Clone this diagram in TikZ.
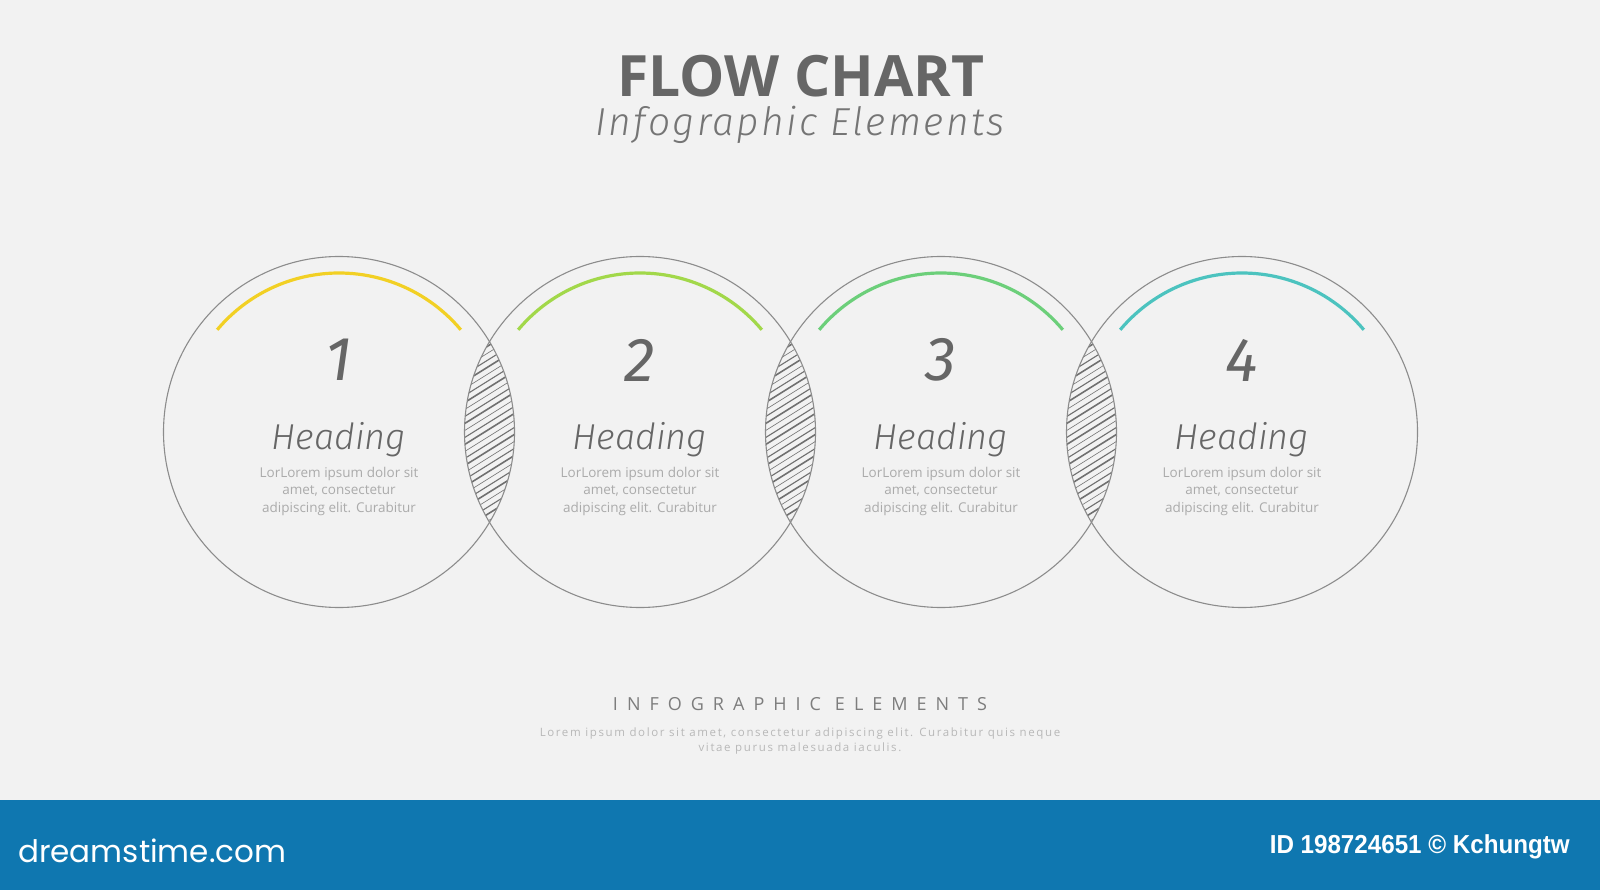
\documentclass[tikz,border=0pt]{standalone}
\usepackage{fontspec}
\setmainfont{Open Sans}
\newfontfamily\hand{Fira Sans Light Italic}
\newfontfamily\handsp[LetterSpace=6]{Fira Sans Light Italic}
\newfontfamily\handnum{Fira Sans Italic}
\newfontfamily\spaced[LetterSpace=50]{Open Sans}
\newfontfamily\spacedsmall[LetterSpace=14]{Open Sans}
\newfontfamily\logofont{Poppins}
\newfontfamily\idfont[FakeStretch=0.93]{Liberation Sans}
\definecolor{bgc}{HTML}{F2F2F2}
\definecolor{bannerc}{HTML}{0F77B0}
\definecolor{ringc}{HTML}{8C8C8C}
\definecolor{titlec}{HTML}{666666}
\definecolor{bodyc}{HTML}{ABABAB}
\definecolor{cy}{HTML}{F2D024}
\definecolor{cg}{HTML}{A2D84A}
\definecolor{cgg}{HTML}{6CCF7A}
\definecolor{ct}{HTML}{4CC3BF}
\tikzset{
  ring/.style={circle, draw=ringc, line width=1.1pt, minimum size=351pt, inner sep=0pt},
  toparc/.style={line width=3.2pt},
  numtxt/.style={font=\handnum\fontsize{62}{62}\selectfont, text=titlec, inner sep=0pt},
  headtxt/.style={font=\hand\fontsize{36}{36}\selectfont, text=titlec, inner sep=0pt},
  bodytxt/.style={font=\fontsize{13.5}{17.5}\selectfont, text=bodyc, align=center, inner sep=0pt},
  hatch/.style={draw=ringc!80!black, line cap=round},
  lensedge/.style={draw=ringc, line width=1.1pt}
}
\begin{document}
\begin{tikzpicture}[x=1pt,y=-1pt]
\useasboundingbox (0,0) rectangle (1600,890);
\fill[bgc] (0,0) rectangle (1600,890);
\fill[bannerc] (0,800) rectangle (1600,890);

% title
\node[font=\bfseries\fontsize{57}{57}\selectfont, text=titlec, inner sep=0pt] (title) at (801,76) {FLOW CHART};
\node[font=\handsp\fontsize{39}{39}\selectfont, text=titlec!90, inner sep=0pt] (subtitle) at (800,125) {Infographic Elements};

% circle centres
\coordinate (c1) at (339,432);
\coordinate (c2) at (640,432);
\coordinate (c3) at (941,432);
\coordinate (c4) at (1242,432);

% lenses (hatched overlaps)
\foreach \a/\b/\lx in {1/2/489.5, 2/3/790.5, 3/4/1091.5}{
  \begin{scope}
    \clip (c\a) circle[radius=175.5];
    \clip (c\b) circle[radius=175.5];
    \foreach \k in {0,...,30}{
      \pgfmathsetmacro{\lw}{0.6+0.5*mod(\k,3)}
      \draw[hatch, line width=\lw pt] (\lx-32,330+\k*7) -- ++(64,-40);
    }
  \end{scope}
}

% rings and content
\foreach \i/\x/\col/\n in {1/339/cy/1, 2/640/cg/2, 3/941/cgg/3, 4/1242/ct/4}{
  \node[ring] (ring\i) at (c\i) {};
  \draw[toparc, \col] ([shift={(c\i)}]-40:159) arc[start angle=-40, end angle=-140, radius=159];
  \node[numtxt] (num\i) at (\x,360) {\n};
  \node[headtxt] (head\i) at (\x,440) {Heading};
  \node[bodytxt] (body\i) at (\x,491) {LorLorem ipsum dolor sit\\amet, consectetur\\adipiscing elit. Curabitur};
}

% bottom texts
\node[font=\spaced\fontsize{18}{18}\selectfont, text=titlec!85, inner sep=0pt] (bottomtitle) at (800,704) {INFOGRAPHIC\hspace{14pt}ELEMENTS};
\node[font=\spacedsmall\fontsize{11.5}{14.5}\selectfont, text=bodyc!85, align=center, inner sep=0pt] (bottombody) at (800,741) {Lorem ipsum dolor sit amet, consectetur adipiscing elit. Curabitur quis neque\\vitae purus malesuada iaculis.};

% banner
\node[font=\logofont\fontsize{31}{31}\selectfont, text=white, anchor=west, inner sep=0pt] (logo) at (18,851) {dreamstime.com};
\node[font=\idfont\bfseries\fontsize{26}{26}\selectfont, text=white, anchor=east, inner sep=0pt] (idtxt) at (1570,847) {ID 198724651 © Kchungtw};
\end{tikzpicture}
\end{document}
